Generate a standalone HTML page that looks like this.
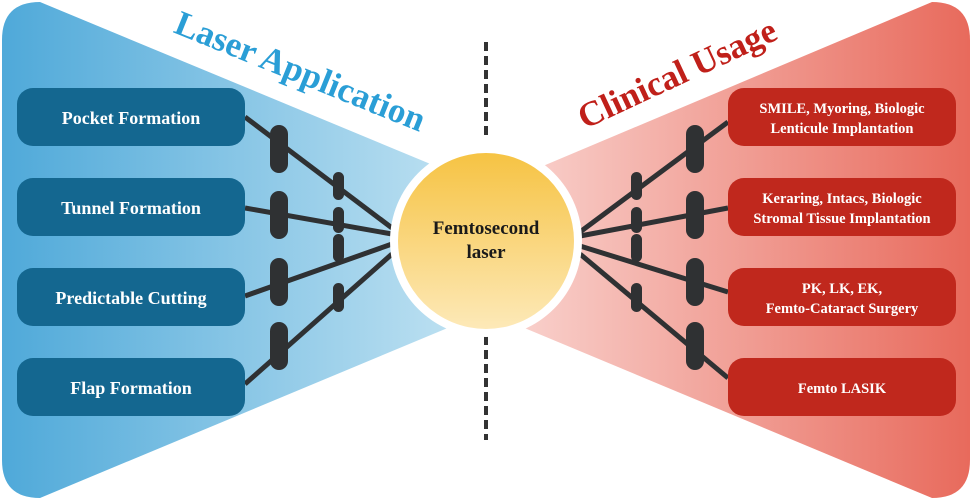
<!DOCTYPE html>
<html><head><meta charset="utf-8"><style>
html,body{margin:0;padding:0;background:#fff;}
svg{display:block;}
</style></head><body>
<svg width="972" height="500" viewBox="0 0 972 500" xmlns="http://www.w3.org/2000/svg">
<defs>
<linearGradient id="bl" x1="0" y1="0" x2="1" y2="0">
<stop offset="0" stop-color="#4fa9d9"/><stop offset="1" stop-color="#c4e4f3"/>
</linearGradient>
<linearGradient id="rd" x1="0" y1="0" x2="1" y2="0">
<stop offset="0" stop-color="#fad8d4"/><stop offset="1" stop-color="#e86a5c"/>
</linearGradient>
<linearGradient id="yl" x1="0" y1="0" x2="0" y2="1">
<stop offset="0" stop-color="#f6c343"/><stop offset="1" stop-color="#fde9b8"/>
</linearGradient>
</defs>
<path d="M40,2 L486,187 L486,312 L40,498 Q2,498 2,460 L2,40 Q2,2 40,2 Z" fill="url(#bl)"/>
<path d="M932,2 L486,190 L486,312 L932,498 Q970,498 970,460 L970,40 Q970,2 932,2 Z" fill="url(#rd)"/>
<g stroke="#333" stroke-width="4" stroke-dasharray="9,5">
<line x1="486" y1="42" x2="486" y2="138"/><line x1="486" y1="336" x2="486" y2="440"/>
</g>
<g stroke="#2f3133" stroke-width="5" fill="none">
<line x1="245" y1="117" x2="392" y2="228"/>
<line x1="245" y1="208" x2="392" y2="234"/>
<line x1="245" y1="296" x2="392" y2="244"/>
<line x1="245" y1="384" x2="392" y2="254"/>
<line x1="728" y1="122" x2="580" y2="232"/>
<line x1="728" y1="208" x2="580" y2="236"/>
<line x1="728" y1="292" x2="580" y2="246"/>
<line x1="728" y1="378" x2="580" y2="254"/>
</g>
<g fill="#2f3133">
<rect x="270" y="125" width="18" height="48" rx="9"/>
<rect x="270" y="191" width="18" height="48" rx="9"/>
<rect x="270" y="258" width="18" height="48" rx="9"/>
<rect x="270" y="322" width="18" height="48" rx="9"/>
<rect x="333" y="172" width="11" height="28" rx="5.5"/>
<rect x="333" y="207" width="11" height="26" rx="5.5"/>
<rect x="333" y="234" width="11" height="28" rx="5.5"/>
<rect x="333" y="283" width="11" height="29" rx="5.5"/>
<rect x="686" y="125" width="18" height="48" rx="9"/>
<rect x="686" y="191" width="18" height="48" rx="9"/>
<rect x="686" y="258" width="18" height="48" rx="9"/>
<rect x="686" y="322" width="18" height="48" rx="9"/>
<rect x="631" y="172" width="11" height="28" rx="5.5"/>
<rect x="631" y="207" width="11" height="26" rx="5.5"/>
<rect x="631" y="234" width="11" height="28" rx="5.5"/>
<rect x="631" y="283" width="11" height="29" rx="5.5"/>
</g>
<circle cx="486" cy="241" r="96" fill="#fff"/>
<circle cx="486" cy="241" r="88" fill="url(#yl)"/>
<g fill="#146790">
<rect x="17" y="88" width="228" height="58" rx="16"/>
<rect x="17" y="178" width="228" height="58" rx="16"/>
<rect x="17" y="268" width="228" height="58" rx="16"/>
<rect x="17" y="358" width="228" height="58" rx="16"/>
</g>
<g fill="#c0281d">
<rect x="728" y="88" width="228" height="58" rx="16"/>
<rect x="728" y="178" width="228" height="58" rx="16"/>
<rect x="728" y="268" width="228" height="58" rx="16"/>
<rect x="728" y="358" width="228" height="58" rx="16"/>
</g>
<g font-family="Liberation Serif, serif" font-weight="bold" fill="#fff" text-anchor="middle" font-size="18">
<text x="131" y="124">Pocket Formation</text>
<text x="131" y="214">Tunnel Formation</text>
<text x="131" y="304">Predictable Cutting</text>
<text x="131" y="394">Flap Formation</text>
</g>
<g font-family="Liberation Serif, serif" font-weight="bold" fill="#fff" text-anchor="middle" font-size="14.5">
<text x="842" y="113">SMILE, Myoring, Biologic</text>
<text x="842" y="133">Lenticule Implantation</text>
<text x="842" y="203">Keraring, Intacs, Biologic</text>
<text x="842" y="223">Stromal Tissue Implantation</text>
<text x="842" y="293">PK, LK, EK,</text>
<text x="842" y="313">Femto-Cataract Surgery</text>
<text x="842" y="393">Femto LASIK</text>
</g>
<g font-family="Liberation Serif, serif" font-weight="bold" fill="#1a1a1a" text-anchor="middle" font-size="19">
<text x="486" y="234">Femtosecond</text>
<text x="486" y="258">laser</text>
</g>
<text x="296" y="82" transform="rotate(22 296 82)" font-family="Liberation Serif, serif" font-weight="bold" font-size="35" fill="#2a9ed6" text-anchor="middle">Laser Application</text>
<text x="682" y="84" transform="rotate(-25 682 84)" font-family="Liberation Serif, serif" font-weight="bold" font-size="35" fill="#c0201a" text-anchor="middle">Clinical Usage</text>
</svg>
</body></html>
